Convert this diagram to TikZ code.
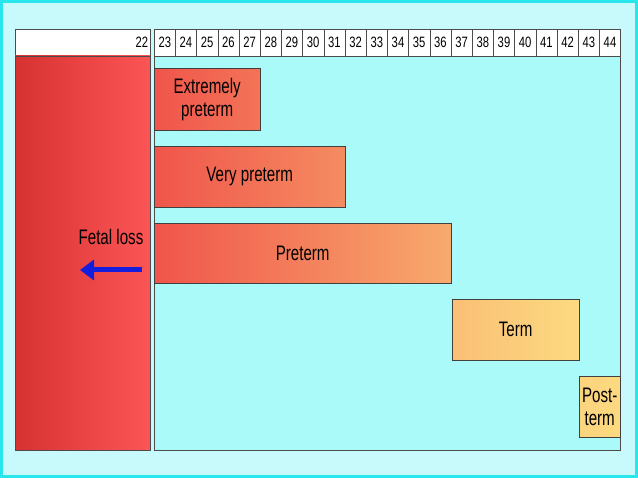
\documentclass[tikz,border=0pt]{standalone}
\usepackage{fontspec}
\setmainfont{Liberation Sans}
\usetikzlibrary{
  arrows.meta, % for arrow tips
  positioning, % for relative node positioning
}
\definecolor{bg-cyan}{RGB}{200, 250, 252}
\definecolor{frame-cyan}{RGB}{40, 230, 235}
\definecolor{panel-cyan}{RGB}{170, 250, 250}
\definecolor{loss-dark}{RGB}{215, 50, 50}
\definecolor{loss-light}{RGB}{252, 85, 85}
\definecolor{bar-red}{RGB}{240, 85, 75}
\definecolor{bar-yellow}{RGB}{252, 218, 128}
\definecolor{arrow-blue}{RGB}{20, 30, 220}
\tikzset{
  week/.style={draw=black!70, fill=white, minimum width=21.2, minimum height=27,
    inner sep=0pt, font=\fontsize{15}{15}\selectfont\addfontfeatures{FakeStretch=0.75},
    anchor=north west},
  label text/.style={font=\fontsize{21}{23}\selectfont\addfontfeatures{FakeStretch=0.72}},
  % a bar from week a to week b, shaded by its position on the scale
  bar/.style n args={2}{draw=black!75, inner sep=0pt, anchor=north west,
    label text, align=center,
    left color=bar-yellow!#1!bar-red, right color=bar-yellow!#2!bar-red},
}
\begin{document}
\begin{tikzpicture}[x=1pt, y=-1pt]
  \useasboundingbox (0,0) rectangle (638,478);
  \fill[frame-cyan] (0,0) rectangle (638,478);
  \fill[bg-cyan] (3,3) rectangle (635,475);
  % header
  \node[week, minimum width=135, anchor=north west, align=right, text width=131]
    (w22) at (15,29) {22};
  \foreach \w [count=\i from 0] in {23,...,44}
    \node[week] (w\w) at (154+21.2*\i,29) {\w};
  % fetal loss column
  \path[draw=black!70, left color=loss-dark, right color=loss-light]
    (15,56) rectangle (150,450);
  \node[label text] (loss) at (111,237) {Fetal loss};
  \coordinate (arrow-start) at (142,270);
  \coordinate (arrow-end) at (80,270);
  \draw[arrow-blue, line width=5pt, -{Triangle[length=14pt, width=20pt]}]
    (arrow-start) -- (arrow-end);
  % panel
  \draw[black!70, fill=panel-cyan] (154,56) rectangle (620,450);
  % bars
  \node[bar={0}{23}, minimum width=106, minimum height=62]
    (extreme) at (154,68) {Extremely\\preterm};
  \node[bar={0}{41}, minimum width=191, minimum height=61]
    (very) at (154,146) {Very preterm};
  \node[bar={0}{64}, minimum width=297, minimum height=60]
    (pre) at (154,223) {Preterm};
  \node[bar={80}{100}, minimum width=127, minimum height=61]
    (term) at (452,299) {Term};
  \node[bar={95}{100}, minimum width=41, minimum height=61]
    (post) at (579,376) {Post-\\term};
\end{tikzpicture}
\end{document}
